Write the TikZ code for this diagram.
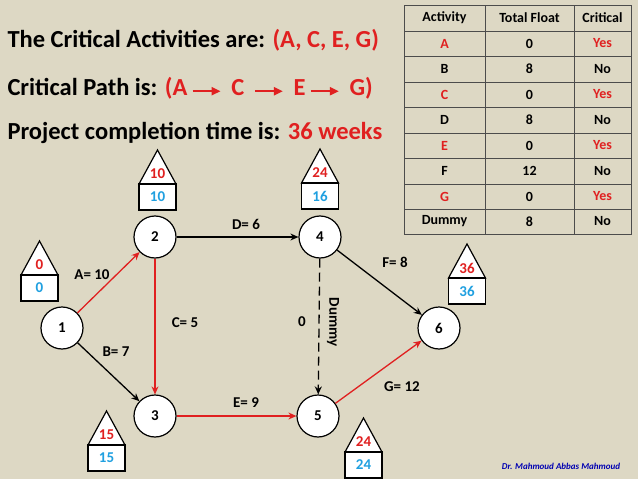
\documentclass[tikz,border=0pt]{standalone}
\usepackage{fontspec}
\setmainfont{Carlito}
\usetikzlibrary{arrows.meta}
\definecolor{bg}{HTML}{DDD8C4}
\definecolor{cred}{HTML}{E02020}
\definecolor{cblue}{HTML}{20A0E0}
\begin{document}
\begin{tikzpicture}[x=1pt,y=-1pt,font=\bfseries,
  ev/.style={circle,draw,fill=white,line width=1.2pt,minimum size=42pt,inner sep=0pt,font=\bfseries\fontsize{15}{15}\selectfont},
  lab/.style={font=\bfseries\fontsize{15}{15}\selectfont},
  blk/.style={-{Stealth[length=8pt,width=7pt]},line width=1.3pt},
  crit/.style={-{Stealth[length=8pt,width=7pt]},line width=1.3pt,draw=cred},
  big/.style={anchor=west,font=\bfseries\fontsize{24.5}{24.5}\selectfont},
  cell/.style={font=\bfseries\fontsize{14}{14}\selectfont}]
\fill[bg] (0,0) rectangle (638,479);
\useasboundingbox (0,0) rectangle (638,479);
% titles
\node[big] (t1) at (4,40) {The Critical Activities are: \textcolor{cred}{(A, C, E, G)}};
\node[big] (t2) at (4,88) {Critical Path is: \textcolor{cred}{(A\,\tikz[baseline=-4pt]\draw[-{Triangle[length=9pt,width=8pt]},line width=2.2pt,cred,x=1pt,y=1pt](0,0)--(28,0);\ \,C\ \,\tikz[baseline=-4pt]\draw[-{Triangle[length=9pt,width=8pt]},line width=2.2pt,cred,x=1pt,y=1pt](0,0)--(28,0);\ \,E\,\tikz[baseline=-4pt]\draw[-{Triangle[length=9pt,width=8pt]},line width=2.2pt,cred,x=1pt,y=1pt](0,0)--(28,0);\ \,G)}};
\node[big] (t3) at (4,133) {Project completion time is: \textcolor{cred}{36 weeks}};
% table
\draw[gray!60!black] (404,5) rectangle (631,234);
\foreach \y in {31,56,82,107,133,158,184,209} \draw[gray!60!black] (404,\y)--(631,\y);
\draw[gray!60!black] (485,5)--(485,234) (574,5)--(574,234);
\node[cell] (h1) at (444.5,18) {Activity};
\node[cell] (h2) at (529.5,18) {Total Float};
\node[cell] (h3) at (602.5,18) {Critical};
\foreach \n/\a/\f/\c/\y in {1/A/0/Yes/43.5,2/B/8/No/69,3/C/0/Yes/94.5,4/D/8/No/120,5/E/0/Yes/145.5,6/F/12/No/171,7/G/0/Yes/196.5,8/Dummy/8/No/221.5}{
  \ifodd\n
    \node[cell,text=cred] (ra\n) at (444.5,\y) {\a};
    \node[cell] (rf\n) at (529.5,\y) {\f};
    \node[cell,text=cred] (rc\n) at (602.5,\y) {\c};
  \else
    \node[cell] (ra\n) at (444.5,\y) {\a};
    \node[cell] (rf\n) at (529.5,\y) {\f};
    \node[cell] (rc\n) at (602.5,\y) {\c};
  \fi
}
% houses
\foreach \x/\yt/\e/\l in {39.5/241/0/0,157.5/150/10/10,320/149/24/16,467/244/36/36,106.5/411/15/15,363.5/418/24/24}{
  \draw[line width=1.2pt,fill=white] (\x-18.5,\yt+34)--(\x,\yt)--(\x+18.5,\yt+34)--cycle;
  \draw[line width=1.2pt,fill=white] (\x-18.5,\yt+34) rectangle (\x+18.5,\yt+60);
  \node[font=\bfseries\fontsize{15}{15}\selectfont,text=cred] at (\x,\yt+24) {\e};
  \node[font=\bfseries\fontsize{15}{15}\selectfont,text=cblue] at (\x,\yt+47) {\l};
}
% events
\node[ev] (n1) at (62,328) {1};
\node[ev] (n2) at (155,237) {2};
\node[ev] (n3) at (155,416) {3};
\node[ev] (n4) at (320,237) {4};
\node[ev] (n5) at (318,416) {5};
\node[ev] (n6) at (439,328) {6};
\draw[crit] (n1)--(n2);
\draw[blk] (n1)--(n3);
\draw[crit] (n2)--(n3);
\draw[blk] (n2)--(n4);
\draw[blk,dash pattern=on 9pt off 5pt] (n4)--(n5);
\draw[blk] (n4)--(n6);
\draw[crit] (n3)--(n5);
\draw[crit] (n5)--(n6);
\node[lab] (la) at (92,275) {A= 10};
\node[lab] (lb) at (116,352) {B= 7};
\node[lab] (lc) at (185,323) {C= 5};
\node[lab] (ld) at (246,224) {D= 6};
\node[lab] (le) at (246,403) {E= 9};
\node[lab] (lf) at (395,262) {F= 8};
\node[lab] (lg) at (402,387) {G= 12};
\node[lab] (l0) at (302,322) {0};
\node[lab,rotate=-90] (ldm) at (333,322) {Dummy};
\node[font=\bfseries\itshape\fontsize{9}{9}\selectfont,text=blue!70!black] (cr) at (561,466) {Dr. Mahmoud Abbas Mahmoud};
\end{tikzpicture}
\end{document}
